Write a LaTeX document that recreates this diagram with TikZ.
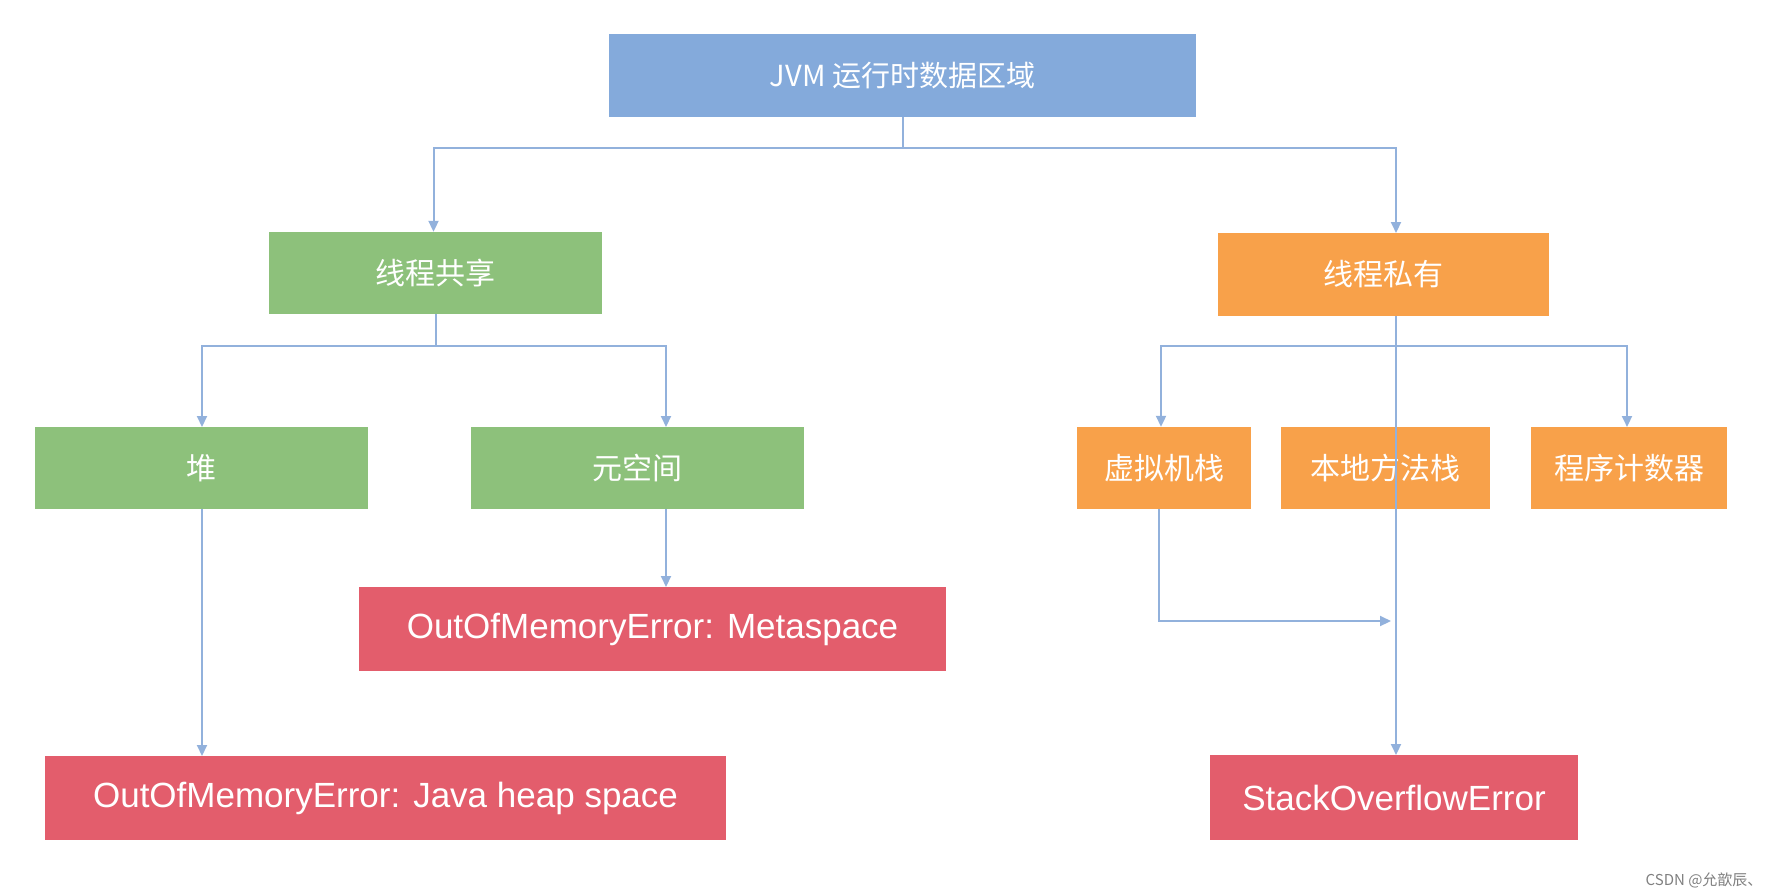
\documentclass[tikz,border=0pt]{standalone}
\usepackage{fontspec}
\setmainfont{Liberation Sans}
\newfontfamily\cjk{Noto Sans CJK SC}
\usetikzlibrary{arrows.meta}
\definecolor{cblue}{HTML}{84AADB}
\definecolor{cgreen}{HTML}{8DC17B}
\definecolor{corange}{HTML}{F8A14A}
\definecolor{cred}{HTML}{E35D6C}
\definecolor{cline}{HTML}{92B1DC}
\begin{document}
\begin{tikzpicture}[x=1pt,y=-1pt,
  bx/.style={fill=#1,draw=none,text=white,font=\fontsize{35}{38}\selectfont,inner sep=0pt},
  ln/.style={draw=cline,line width=2pt},
  ar/.style={ln,-{Triangle[length=11pt,width=10pt]}}]
\useasboundingbox (0,0) rectangle (1771,895);
\def\B#1#2#3#4#5#6#7{\node[bx=#6,minimum width=#3-#2,minimum height=#5-#4] (#1) at ({(#2+#3)/2},{(#4+#5)/2}) {#7};}
\B{top}{609}{1196}{34}{117}{cblue}{\cjk\fontsize{29}{32}\selectfont JVM 运行时数据区域}
\B{gx}{269}{602}{232}{314}{cgreen}{\cjk\fontsize{30}{32}\selectfont 线程共享}
\B{sy}{1218}{1549}{233}{316}{corange}{\cjk\fontsize{30}{32}\selectfont 线程私有}
\B{dui}{35}{368}{427}{509}{cgreen}{\cjk\fontsize{30}{32}\selectfont 堆}
\B{meta}{471}{804}{427}{509}{cgreen}{\cjk\fontsize{30}{32}\selectfont 元空间}
\B{oomm}{359}{946}{587}{671}{cred}{OutOfMemoryError: Metaspace}
\B{oomh}{45}{726}{756}{840}{cred}{OutOfMemoryError: Java heap space}
\B{vms}{1077}{1251}{427}{509}{corange}{\cjk\fontsize{30}{32}\selectfont 虚拟机栈}
\B{nms}{1281}{1490}{427}{509}{corange}{\cjk\fontsize{30}{32}\selectfont 本地方法栈}
\B{pc}{1531}{1727}{427}{509}{corange}{\cjk\fontsize{30}{32}\selectfont 程序计数器}
\B{soe}{1210}{1578}{755}{840}{cred}{StackOverflowError}
\coordinate (j1) at (903,148);
\coordinate (j2) at (1161,346);
\coordinate (j3) at (1391,621);
\draw[ln] (top.south -| j1) -- (j1);
\draw[ar] (j1) -| ([xshift=-2pt]gx.north);
\draw[ar] (j1) -| (1396,233);
\draw[ar] (gx.south) -- ++(0,32) -| (202,427);
\draw[ar] (gx.south) -- ++(0,32) -| (666,427);
\draw[ar] (1396,316) |- (j2) -- (vms.north -| j2);
\draw[ar] (1396,346) -| (1627,427);
\draw[ar] (1396,316) -- (1396,755);
\draw[ar] (202,509) -- (202,756);
\draw[ar] (666,509) -- (666,587);
\draw[ar] (1159,509) |- (j3);
\node[text=gray,font=\cjk\fontsize{15}{17}\selectfont,anchor=east] (wm) at (1766,880) {CSDN @允歆辰、};
\end{tikzpicture}
\end{document}
